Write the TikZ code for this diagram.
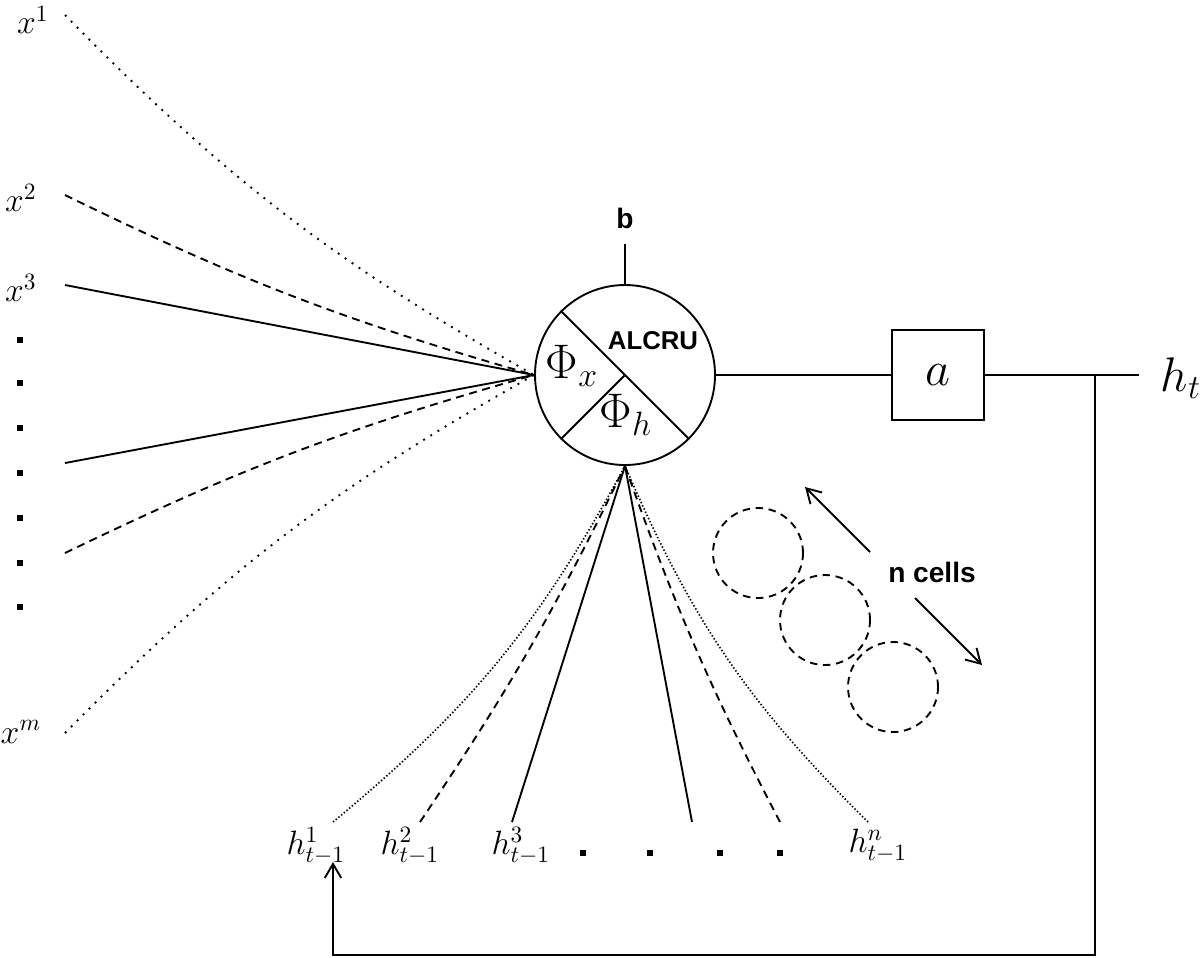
\documentclass[tikz,border=0pt]{standalone}
\usepackage{fontspec}
\newfontfamily\cellfont{Liberation Sans}
\usetikzlibrary{arrows.meta,positioning}
\tikzset{
      cellcircle/.style={
        circle,
        draw,
        line width=0.8pt,
        minimum size=2.7cm,
        inner sep=0pt
      },
      ghostcell/.style={
        circle,
        draw,
        line width=0.8pt,
        dash pattern=on 3.2pt off 2.4pt,
        minimum size=1.35cm,
        inner sep=0pt
      },
      actbox/.style={
        draw,
        line width=0.8pt,
        minimum width=1.37cm,
        minimum height=1.35cm
      },
      dotmark/.style={fill, minimum size=2.4pt, inner sep=0pt},
      wire/.style={line width=0.8pt},
      dotwire/.style={line width=0.8pt, dash pattern=on 0.8pt off 2.8pt},
      finedot/.style={line width=0.7pt, dash pattern=on 0.6pt off 0.9pt},
      dashwire/.style={line width=0.8pt, dash pattern=on 3.4pt off 2.4pt},
      sanslabel/.style={font=\cellfont\bfseries\fontsize{12}{14}\selectfont}
    }

\begin{document}
\begin{tikzpicture}[x=0.015cm,y=-0.015cm]
    \useasboundingbox (0,0) rectangle (1200,957);
    % cell
    \node[cellcircle] (alcru) at (625,375) {};
    \draw[wire] (alcru.135) -- (alcru.-45);
    \draw[wire] (alcru.center) -- (alcru.-135);
    \node[font=\cellfont\bfseries\fontsize{11}{13}\selectfont] (name) at (653,341) {ALCRU};
    \node[font=\fontsize{21}{25}\selectfont] (phix) at (572,366) {$\Phi_x$};
    \node[font=\fontsize{21}{25}\selectfont] (phih) at (626,415) {$\Phi_h$};
    \node[sanslabel] (bias) at (625,218) {b};
    \draw[wire] (alcru.north) -- ++(0,-40);
    % activation and output
    \node[actbox, font=\fontsize{22}{26}\selectfont] (act) at (938,375) {$a$};
    \node[font=\fontsize{22}{26}\selectfont] (out) at (1181,378) {$h_t$};
    \coordinate (split) at (1095,375);
    \coordinate (outend) at (1139,375);
    \coordinate (down) at (1095,955);
    \coordinate (back) at (333,955);
    \coordinate (backtip) at (333,862);
    \draw[wire] (alcru.east) -- (act.west);
    \draw[wire] (act.east) -- (outend);
    \draw[wire, -{Straight Barb[length=6pt,width=7pt]}] (split) -- (down) -- (back) -- (backtip);
    % inputs x
    \node[font=\Large] (x1) at (33,20) {$x^1$};
    \node[font=\Large] (x2) at (21,198) {$x^2$};
    \node[font=\Large] (x3) at (21,288) {$x^3$};
    \node[font=\Large] (xm) at (21,732) {$x^m$};
    \coordinate (in1) at (65,15);
    \coordinate (in2) at (65,195);
    \coordinate (in3) at (65,285);
    \coordinate (in4) at (65,463);
    \coordinate (in5) at (65,553);
    \coordinate (in6) at (65,733);
    \draw[dotwire] (in1) to[bend right=8] (alcru.west);
    \draw[dashwire] (in2) to[bend right=5] (alcru.west);
    \draw[wire] (in3) -- (alcru.west);
    \draw[wire] (in4) -- (alcru.west);
    \draw[dashwire] (in5) to[bend left=5] (alcru.west);
    \draw[dotwire] (in6) to[bend left=8] (alcru.west);
    \foreach \y/\n in {340/1,383/2,428/3,473/4,518/5,563/6,607/7}
      \node[dotmark] (vdot\n) at (20,\y) {};
    % recurrent inputs h
    \node[font=\Large] (h1) at (316,846) {$h^1_{t-1}$};
    \node[font=\Large] (h2) at (410,846) {$h^2_{t-1}$};
    \node[font=\Large] (h3) at (521,846) {$h^3_{t-1}$};
    \node[font=\Large] (hn) at (878,846) {$h^n_{t-1}$};
    \foreach \x/\n in {583/1,650/2,720/3,780/4}
      \node[dotmark] (hdot\n) at (\x,853) {};
    \coordinate (rec1) at (333,822);
    \coordinate (rec2) at (420,822);
    \coordinate (rec3) at (512,822);
    \coordinate (rec4) at (692,822);
    \coordinate (rec5) at (780,822);
    \coordinate (rec6) at (868,822);
    \draw[finedot] (rec1) to[bend right=11] (alcru.south);
    \draw[dashwire] (rec2) to[bend right=4] (alcru.south);
    \draw[wire] (rec3) -- (alcru.south);
    \draw[wire] (rec4) -- (alcru.south);
    \draw[dashwire] (rec5) to[bend left=4] (alcru.south);
    \draw[finedot] (rec6) to[bend left=11] (alcru.south);
    % other cells
    \node[ghostcell] (cella) at (758,553) {};
    \node[ghostcell] (cellb) at (825,620) {};
    \node[ghostcell] (cellc) at (893,687) {};
    \node[sanslabel] (ncells) at (932,572) {n cells};
    \coordinate (upa) at (870,552);
    \coordinate (upb) at (805,487);
    \coordinate (dna) at (915,598);
    \coordinate (dnb) at (982,665);
    \draw[wire, -{Straight Barb[length=6pt,width=7pt]}] (upa) -- (upb);
    \draw[wire, -{Straight Barb[length=6pt,width=7pt]}] (dna) -- (dnb);
\end{tikzpicture}
\end{document}
